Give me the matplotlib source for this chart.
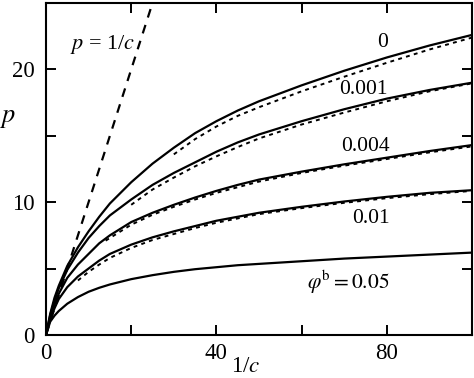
import matplotlib
matplotlib.use("Agg")
import matplotlib.pyplot as plt

x_pts = [0, 1, 2, 3, 5, 7.5, 10, 12.5, 15, 20, 25, 30, 35, 40, 45, 50, 60, 70, 80, 90, 100]

# solid curves, one per phi^b
p_0 = [0, 1.6, 2.8, 3.7, 5.2, 6.6, 7.8, 8.9, 9.9, 11.5, 12.9, 14.1, 15.2, 16.1, 16.9,
       17.6, 18.8, 19.9, 20.9, 21.8, 22.6]
p_0001 = [0, 1.5, 2.6, 3.5, 4.9, 6.2, 7.3, 8.2, 9.0, 10.2, 11.3, 12.2, 13.0, 13.8, 14.5,
          15.1, 16.1, 17.0, 17.8, 18.45, 19.0]
p_0004 = [0, 1.3, 2.3, 3.1, 4.3, 5.3, 6.1, 6.9, 7.5, 8.5, 9.2, 9.8, 10.35, 10.85, 11.3,
          11.7, 12.3, 12.85, 13.35, 13.85, 14.3]
p_001 = [0, 1.2, 2.0, 2.7, 3.6, 4.4, 5.0, 5.6, 6.1, 6.8, 7.35, 7.8, 8.2, 8.6, 8.9,
         9.2, 9.65, 10.05, 10.4, 10.7, 10.9]
p_005 = [0, 1.0, 1.45, 1.8, 2.35, 2.85, 3.25, 3.55, 3.8, 4.2, 4.5, 4.75, 4.95, 5.1, 5.25,
         5.35, 5.55, 5.75, 5.9, 6.05, 6.2]

# dotted (approximate) curves
xd_0 = [30, 35, 40, 45, 50, 60, 70, 80, 90, 100]
pd_0 = [13.6, 14.75, 15.7, 16.5, 17.15, 18.35, 19.45, 20.5, 21.5, 22.4]
xd_0001 = [20, 25, 30, 35, 40, 45, 50, 60, 70, 80, 90, 100]
pd_0001 = [9.8, 10.95, 11.85, 12.7, 13.45, 14.15, 14.8, 15.85, 16.75, 17.6, 18.35, 18.95]
xd_0004 = [14, 20, 25, 30, 35, 40, 50, 60, 70, 80, 90, 100]
pd_0004 = [7.1, 8.3, 9.05, 9.65, 10.2, 10.7, 11.55, 12.2, 12.75, 13.25, 13.75, 14.2]
xd_001 = [7.5, 10, 12.5, 15, 20, 25, 30, 35, 40, 50, 60, 70, 80, 90, 100]
pd_001 = [4.1, 4.75, 5.3, 5.8, 6.55, 7.15, 7.6, 8.05, 8.45, 9.1, 9.55, 9.95, 10.3, 10.6, 10.85]

# p = 1/c line
x_lin = [0, 25]
p_lin = [0, 25]

labels = ["0", "0.001", "0.004", "0.01", r"$\varphi^{\rm b} = 0.05$"]
label_x = [79, 74.6, 75, 76.2, 71]
label_y = [22.0, 18.5, 14.2, 8.8, 4.0]

plt.rcParams["font.family"] = "Liberation Serif"
plt.rcParams["mathtext.fontset"] = "stix"

fig = plt.figure(figsize=(4.74, 3.78), dpi=100)
ax = fig.add_axes([0.097, 0.114, 0.899, 0.878])

for ys in [p_0, p_0001, p_0004, p_001, p_005]:
    ax.plot(x_pts, ys, color="black", lw=1.6)
for xs, ys in [(xd_0, pd_0), (xd_0001, pd_0001), (xd_0004, pd_0004), (xd_001, pd_001)]:
    ax.plot(xs, ys, color="black", lw=1.4, dashes=(2, 2.2))
ax.plot(x_lin, p_lin, color="black", lw=1.6, dashes=(4, 3.5))

for t, tx, ty in zip(labels, label_x, label_y):
    ax.text(tx, ty, t, fontsize=15.5, ha="center", va="center")
ax.text(13.2, 21.9, r"$p$ = 1/$c$", fontsize=16, ha="center", va="center")

ax.set_xlim(0, 100)
ax.set_ylim(0, 25)
ax.set_xticks([0, 20, 40, 60, 80, 100])
ax.set_xticklabels(["0", "", "40", "", "80", ""])
ax.set_yticks([0, 5, 10, 15, 20, 25])
ax.set_yticklabels(["0", "", "10", "", "20", ""])
ax.tick_params(direction="in", top=True, right=True, length=7, width=1.4,
               labelsize=16.5)
ax.tick_params(axis="x", pad=6)
ax.tick_params(axis="y", pad=8)
for s in ax.spines.values():
    s.set_linewidth(1.5)

ax.text(-0.089, 0.651, "$p$", transform=ax.transAxes, fontsize=19,
        ha="center", va="center")
ax.text(0.468, -0.096, "1/$c$", transform=ax.transAxes, fontsize=16.5,
        ha="center", va="center")

fig.savefig("out.png", dpi=100)
